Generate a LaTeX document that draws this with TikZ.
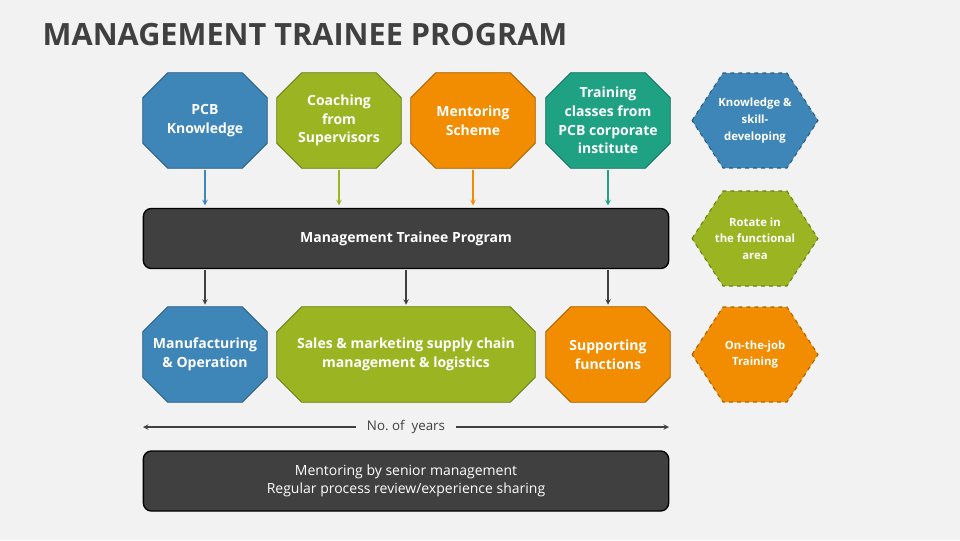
\documentclass[tikz,border=0pt]{standalone}
\usepackage{fontspec}
\setmainfont{Open Sans}
\usetikzlibrary{positioning,calc,backgrounds}
\definecolor{pcbblue}{HTML}{3F86B8}
\definecolor{pcbgreen}{HTML}{9AB521}
\definecolor{pcborange}{HTML}{F28C00}
\definecolor{pcbteal}{HTML}{1FA184}
\definecolor{bardark}{HTML}{404040}
\definecolor{bggray}{HTML}{F2F2F2}
\tikzset{
  octa/.style={rectangle, minimum height=71.25pt, inner sep=0pt, text=white,
    font=\bfseries\fontsize{10.5}{14}\selectfont, align=center},
  octaline/.style={draw=#1!70!black, fill=#1, line width=0.6pt},
  bar/.style={rectangle, rounded corners=6pt, fill=bardark, draw=black, line width=1pt,
    minimum width=394pt, text=white, align=center},
  hexa/.style={draw=#1!70!black, fill=#1, dashed, line width=0.8pt},
  hextext/.style={text=white, font=\bfseries\fontsize{8.5}{12.5}\selectfont, align=center},
  dnarrow/.style={->, >=stealth, line width=0.8pt, draw=#1}
}
% octagon around a named node
\newcommand{\octaround}[2]{%
  \begin{pgfonlayer}{background}
  \draw[octaline=#2] ($(#1.north west)+(25,0)$) -- ($(#1.north east)+(-25,0)$)
    -- ($(#1.north east)+(0,25)$) -- ($(#1.south east)+(0,-25)$)
    -- ($(#1.south east)+(-25,0)$) -- ($(#1.south west)+(25,0)$)
    -- ($(#1.south west)+(0,-25)$) -- ($(#1.north west)+(0,25)$) -- cycle;
  \end{pgfonlayer}}
\newcommand{\hexat}[2]{%
  \draw[hexa=#2] ($(#1)+(-63,0)$) -- ++(31,-47.5) -- ++(64,0) -- ++(31,47.5)
    -- ++(-31,47.5) -- ++(-64,0) -- cycle;}
\begin{document}
\begin{tikzpicture}[x=0.75pt,y=-0.75pt]
  \begin{pgfonlayer}{background}
    \fill[bggray] (0,0) rectangle (960,540);
  \end{pgfonlayer}
  \useasboundingbox (0,0) rectangle (960,540);
  \node[anchor=west, text=bardark, font=\bfseries\fontsize{23}{26}\selectfont] (title) at (38,35) {MANAGEMENT TRAINEE PROGRAM};

  % top row
  \node[octa, minimum width=93pt] (pcb) at (205,120.5) {PCB\\Knowledge};
  \node[octa, minimum width=93pt] (coach) at (339,120.5) {Coaching\\from\\Supervisors};
  \node[octa, minimum width=93pt] (mentor) at (473,120.5) {Mentoring\\Scheme};
  \node[octa, minimum width=93pt] (train) at (608,120.5) {Training\\classes from\\PCB corporate\\institute};
  \octaround{pcb}{pcbblue}
  \octaround{coach}{pcbgreen}
  \octaround{mentor}{pcborange}
  \octaround{train}{pcbteal}

  % main bar
  \node[bar, minimum height=45pt, font=\bfseries\fontsize{10.5}{13}\selectfont] (mtp) at (406,238.5) {Management Trainee Program};
  \foreach \src/\col in {pcb/pcbblue, coach/pcbgreen, mentor/pcborange, train/pcbteal}
    \draw[dnarrow=\col] (\src.south) ++(0,2) -- ++(0,35);

  % bottom row
  \node[octa, minimum width=93pt] (manu) at (205,354.5) {Manufacturing\\\& Operation};
  \node[octa, minimum width=193.5pt] (sales) at (406,354.5) {Sales \& marketing supply chain\\management \& logistics};
  \node[octa, minimum width=93pt] (supp) at (608,354.5) {Supporting\\functions};
  \octaround{manu}{pcbblue}
  \octaround{sales}{pcbgreen}
  \octaround{supp}{pcborange}
  \foreach \dst in {manu, sales, supp}
    \draw[dnarrow=bardark] (mtp.south -| \dst.north) ++(0,1) -- ($(\dst.north)+(0,-2)$);

  % years
  \node[fill=bggray, inner xsep=8pt, font=\fontsize{10}{12}\selectfont, text=bardark] (years) at (406,427) {No.\ of\ \ years};
  \coordinate (yl) at (143,427);
  \coordinate (yr) at (669,427);
  \draw[<-, >=stealth, line width=0.8pt, bardark] (yl) -- (years.west);
  \draw[->, >=stealth, line width=0.8pt, bardark] (years.east) -- (yr);

  % bottom bar
  \node[bar, minimum height=45pt, font=\fontsize{10.5}{13.5}\selectfont] (senior) at (406,481) {Mentoring by senior management\\Regular process review/experience sharing};

  % right hexagons
  \coordinate (h1) at (755,120.5);
  \coordinate (h2) at (755,238.5);
  \coordinate (h3) at (755,354.5);
  \hexat{h1}{pcbblue}
  \hexat{h2}{pcbgreen}
  \hexat{h3}{pcborange}
  \node[hextext] (skill) at (h1) {Knowledge \&\\skill-\\developing};
  \node[hextext] (rotate) at (h2) {Rotate in\\the functional\\area};
  \node[hextext] (ojt) at (h3) {On-the-job\\Training};
\end{tikzpicture}
\end{document}
